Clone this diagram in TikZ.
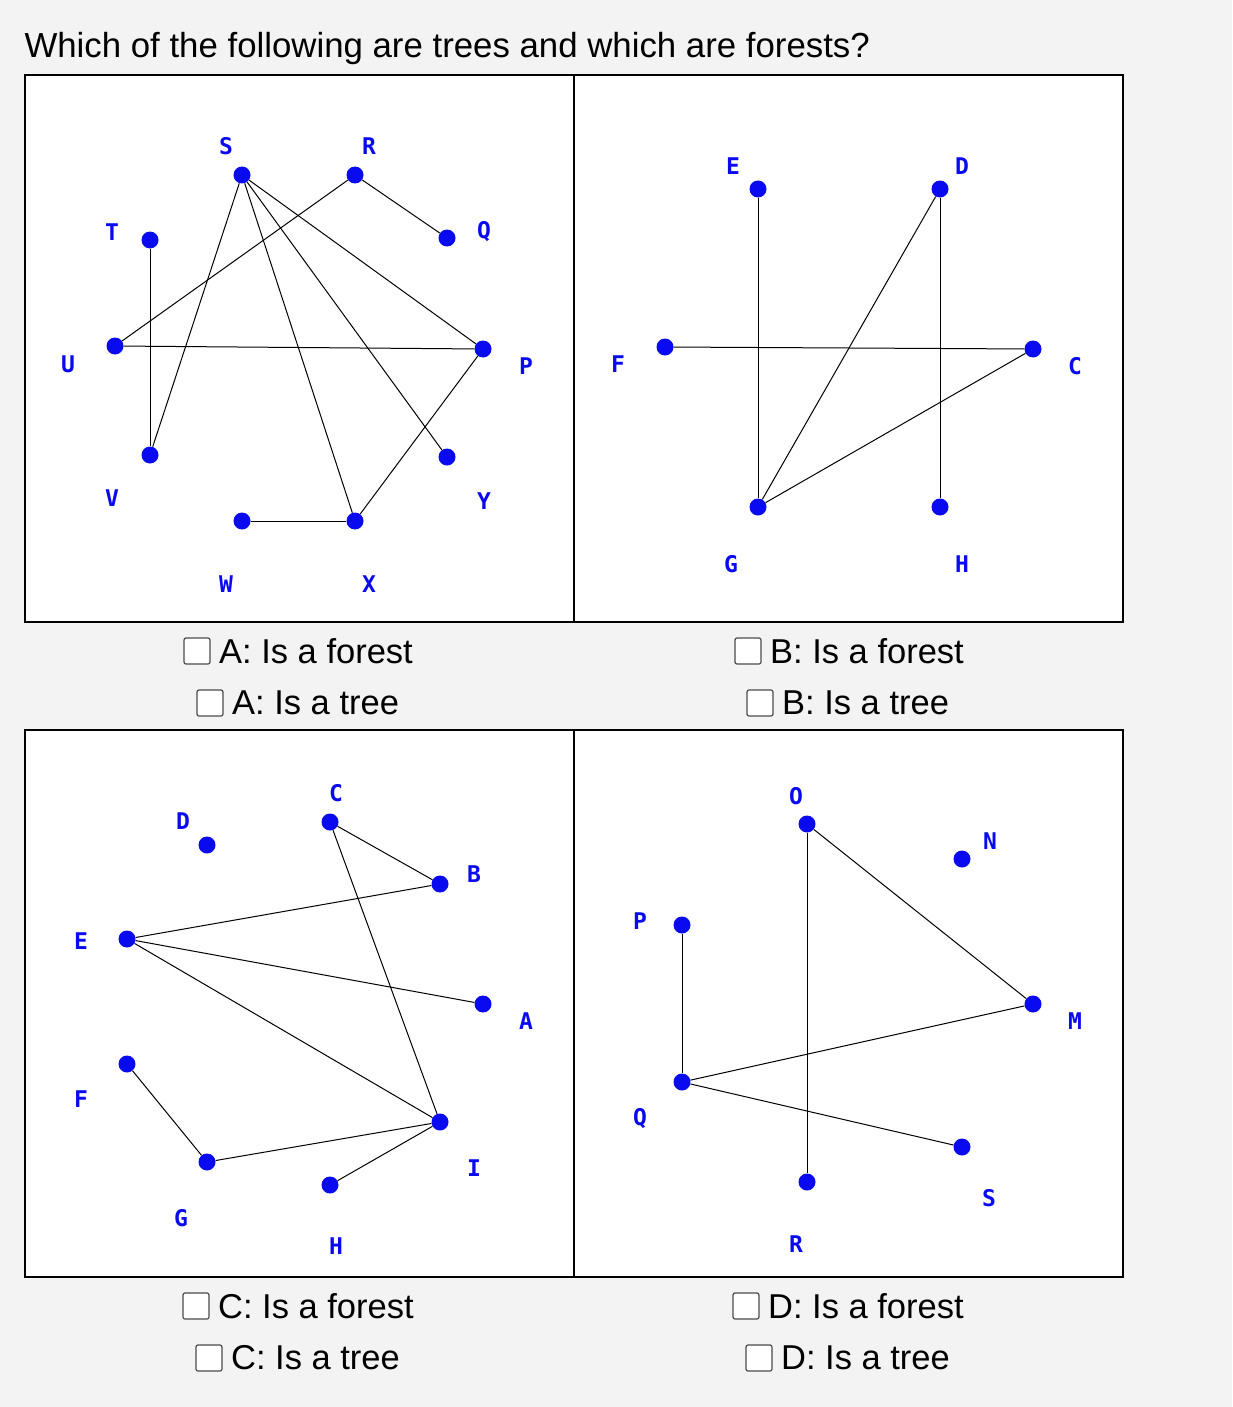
\documentclass[tikz,border=0pt]{standalone}
\usepackage{fontspec}
\setmainfont{Liberation Sans}
\newfontfamily\lblfont{DejaVu Sans Mono}
\definecolor{bg}{HTML}{F3F3F3}
\definecolor{dotblue}{HTML}{0A0AF0}
\begin{document}
\begin{tikzpicture}[x=1pt,y=-1pt,
 v/.style={circle,fill=dotblue,inner sep=0pt,minimum size=17pt},
 lb/.style={text=dotblue,font=\lblfont\bfseries\fontsize{23}{23}\selectfont},
 ed/.style={draw=black,line width=1pt},
 panel/.style={draw=black,line width=2pt,fill=white},
 cb/.style={draw=black!70,line width=1.2pt,rounded corners=2pt,fill=white,minimum size=26pt,inner sep=0pt},
 ans/.style={anchor=west,font=\fontsize{34.5}{34.5}\selectfont}]
\fill[bg] (0,0) rectangle (1232,1407);
\useasboundingbox (0,0) rectangle (1232,1407);
\node[anchor=west,font=\fontsize{34.8}{34.8}\selectfont] (title) at (21,49) {Which of the following are trees and which are forests?};
\draw[panel] (25,75) rectangle (574,622);
\draw[panel] (574,75) rectangle (1123,622);
\draw[panel] (25,730) rectangle (574,1277);
\draw[panel] (574,730) rectangle (1123,1277);
% Panel A
\foreach \n/\x/\y in {aS/242/175,aR/355/175,aQ/447/238,aP/483/349,aY/447/457,aX/355/521,aW/242/521,aV/150/455,aU/115/346,aT/150/240}
 \node[v] (\n) at (\x,\y) {};
\foreach \t/\x/\y in {S/226/146,R/369/146,Q/484/232,P/526/366,Y/484/501,X/369/584,W/226/584,V/112/498,U/68/364,T/112/232}
 \node[lb] (la\t) at (\x,\y) {\t};
\foreach \a/\b in {aT/aV,aU/aP,aU/aR,aR/aQ,aS/aV,aS/aX,aS/aP,aS/aY,aP/aX,aW/aX}
 \draw[ed] (\a) -- (\b);
% Panel B
\foreach \n/\x/\y in {bE/758/189,bD/940/189,bF/665/347,bC/1033/349,bG/758/507,bH/940/507}
 \node[v] (\n) at (\x,\y) {};
\foreach \t/\x/\y in {E/733/166,D/962/166,F/618/364,C/1075/366,G/731/564,H/962/564}
 \node[lb] (lb\t) at (\x,\y) {\t};
\foreach \a/\b in {bE/bG,bD/bG,bD/bH,bF/bC,bG/bC}
 \draw[ed] (\a) -- (\b);
% Panel C
\foreach \n/\x/\y in {cC/330/822,cD/207/845,cB/440/884,cE/127/939,cA/483/1004,cF/127/1064,cI/440/1122,cG/207/1162,cH/330/1185}
 \node[v] (\n) at (\x,\y) {};
\foreach \t/\x/\y in {C/336/793,D/183/821,B/474/874,E/81/941,A/526/1021,F/81/1099,I/474/1168,G/181/1218,H/336/1246}
 \node[lb] (lc\t) at (\x,\y) {\t};
\foreach \a/\b in {cC/cB,cC/cI,cE/cB,cE/cA,cE/cI,cF/cG,cG/cI,cH/cI}
 \draw[ed] (\a) -- (\b);
% Panel D
\foreach \n/\x/\y in {dO/807/824,dN/962/859,dP/682/925,dM/1033/1004,dQ/682/1082,dS/962/1147,dR/807/1182}
 \node[v] (\n) at (\x,\y) {};
\foreach \t/\x/\y in {O/796/796,N/990/841,P/640/921,M/1075/1021,Q/640/1119,S/989/1198,R/796/1244}
 \node[lb] (ld\t) at (\x,\y) {\t};
\foreach \a/\b in {dO/dM,dO/dR,dP/dQ,dQ/dM,dQ/dS}
 \draw[ed] (\a) -- (\b);
% answers
\foreach \k/\x/\y/\t in {a1/197/651/A: Is a forest,a2/210/703/A: Is a tree,b1/748/651/B: Is a forest,b2/760/703/B: Is a tree,c1/196/1306/C: Is a forest,c2/209/1358/C: Is a tree,d1/746/1306/D: Is a forest,d2/759/1358/D: Is a tree}{
 \node[cb] (\k box) at (\x,\y) {};
 \node[ans] (\k txt) at ([xshift=5pt]\k box.east) {\t};
}
\end{tikzpicture}
\end{document}
